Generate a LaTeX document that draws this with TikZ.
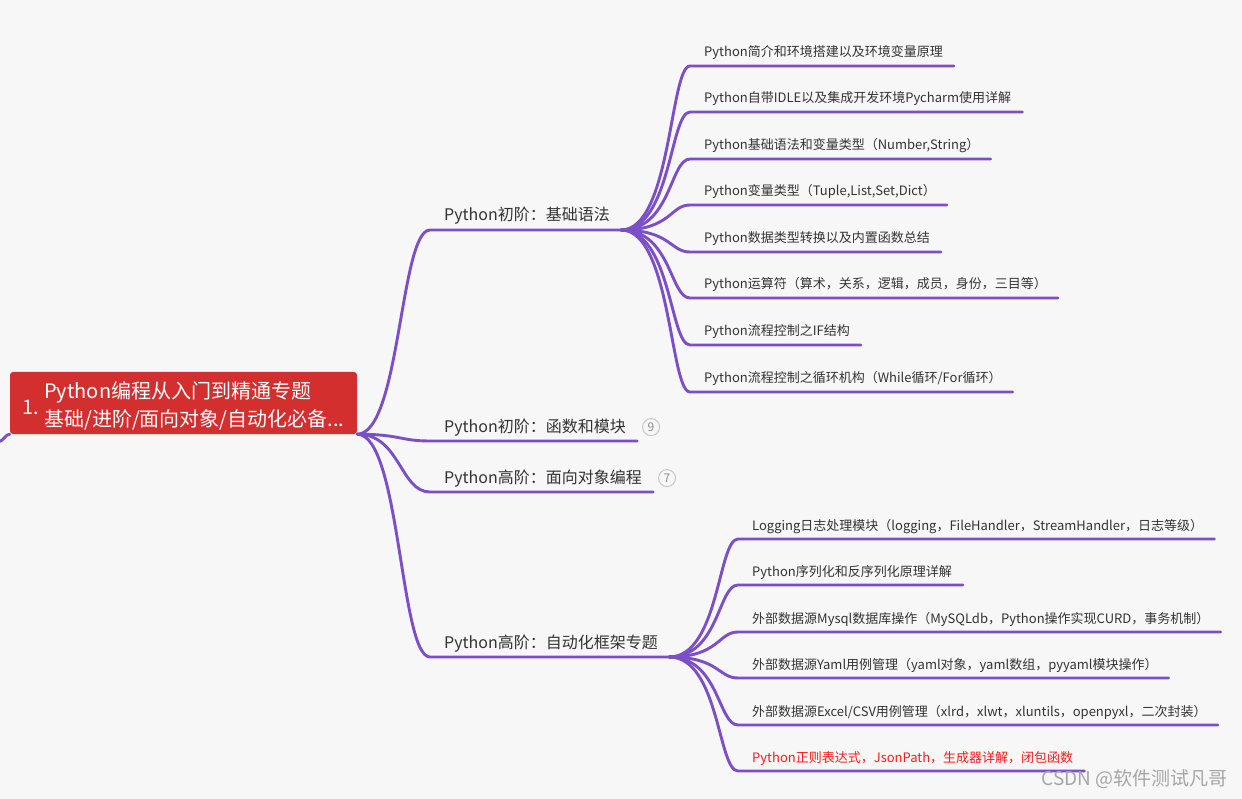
\documentclass[tikz,border=0pt]{standalone}
\usepackage{fontspec}
\setmainfont{Noto Sans CJK SC}
\usetikzlibrary{positioning}

\definecolor{MapPurple}{HTML}{7B4FC8}
\definecolor{MapRed}{HTML}{D32F2F}
\definecolor{MapBg}{HTML}{F7F7F7}
\definecolor{MapText}{HTML}{333333}
\definecolor{MapAlert}{HTML}{FF1A1A}

\tikzset{MapBranch/.style={draw=MapPurple,line width=2.9pt,line cap=round},
         MapRoot/.style={fill=MapRed,rounded corners=3pt,minimum width=347pt,
           minimum height=62pt,inner sep=0pt},
         MapTopic/.style={anchor=base west,inner sep=0pt,text=MapText,
           font=\fontsize{16}{19}\selectfont},
         MapLeaf/.style={anchor=base west,inner sep=0pt,text=MapText,
           font=\fontsize{13}{16}\selectfont},
         MapBadge/.style={circle,draw=black!22,line width=1pt,text=black!45,
           inner sep=0pt,minimum size=17pt,font=\fontsize{12}{13}\selectfont}}

\begin{document}
\begin{tikzpicture}[x=1pt,y=-1pt]
  \useasboundingbox[fill=MapBg] (0,0) rectangle (1242,799);
  % root topic
  \node[MapRoot] (root) at (183.5,403) {};
  \node[text=white,inner sep=0pt,font=\fontsize{20}{20}\selectfont] (rootNum) at (31,407) {1.};
  \node[text=white,inner sep=0pt,anchor=west,align=left,font=\fontsize{20}{28}\selectfont]
    (rootTitle) at (44,406) {Python编程从入门到精通专题\\基础/进阶/面向对象/自动化必备...};
  \coordinate (rootIn) at (-3,442);
  \draw[MapBranch] (rootIn) .. controls (5,441) and (5,434) .. (root.south west);

  % main topics
  \node[MapTopic] (basic) at (444,221) {Python初阶：基础语法};
  \node[MapTopic] (func) at (444,432) {Python初阶：函数和模块};
  \node[MapTopic] (oop) at (444,483) {Python高阶：面向对象编程};
  \node[MapTopic] (auto) at (444,648) {Python高阶：自动化框架专题};
  \node[MapBadge,right=16pt of func] (funcCount) {9};
  \node[MapBadge,right=16pt of oop] (oopCount) {7};
  \foreach \t in {basic,func,oop,auto}
    \draw[MapBranch] (root.south east) .. controls +(43,0) and +(-30,0) ..
      ([shift={(-14,9)}]\t.base west) -- ([shift={(11,9)}]\t.base east) coordinate (\t-end);

  % leaves of the first topic
  \node[MapLeaf] (basic1) at (704,57) {Python简介和环境搭建以及环境变量原理};
  \node[MapLeaf] (basic2) at (704,103) {Python自带IDLE以及集成开发环境Pycharm使用详解};
  \node[MapLeaf] (basic3) at (704,150) {Python基础语法和变量类型（Number,String）};
  \node[MapLeaf] (basic4) at (704,196) {Python变量类型（Tuple,List,Set,Dict）};
  \node[MapLeaf] (basic5) at (704,243) {Python数据类型转换以及内置函数总结};
  \node[MapLeaf] (basic6) at (704,289) {Python运算符（算术，关系，逻辑，成员，身份，三目等）};
  \node[MapLeaf] (basic7) at (704,336) {Python流程控制之IF结构};
  \node[MapLeaf] (basic8) at (704,383) {Python流程控制之循环机构（While循环/For循环）};
  \foreach \x in {1,...,8}
    \draw[MapBranch] (basic-end) .. controls +(50,0) and +(-20,0) ..
      ([shift={(-14,9)}]basic\x.base west) -- ([shift={(11,9)}]basic\x.base east);

  % leaves of the last topic
  \node[MapLeaf] (auto1) at (752,530) {Logging日志处理模块（logging，FileHandler，StreamHandler，日志等级）};
  \node[MapLeaf] (auto2) at (752,576) {Python序列化和反序列化原理详解};
  \node[MapLeaf] (auto3) at (752,623) {外部数据源Mysql数据库操作（MySQLdb，Python操作实现CURD，事务机制）};
  \node[MapLeaf] (auto4) at (752,669) {外部数据源Yaml用例管理（yaml对象，yaml数组，pyyaml模块操作）};
  \node[MapLeaf] (auto5) at (752,716) {外部数据源Excel/CSV用例管理（xlrd，xlwt，xluntils，openpyxl，二次封装）};
  \node[MapLeaf,text=MapAlert] (auto6) at (752,762) {Python正则表达式，JsonPath，生成器详解，闭包函数};
  \foreach \x in {1,...,6}
    \draw[MapBranch] (auto-end) .. controls +(50,0) and +(-20,0) ..
      ([shift={(-14,9)}]auto\x.base west) -- ([shift={(11,9)}]auto\x.base east);

  \node[anchor=east,inner sep=0pt,text=black!35,font=\fontsize{19}{19}\selectfont]
    (mark) at (1228,779) {CSDN @软件测试凡哥};
\end{tikzpicture}
\end{document}
